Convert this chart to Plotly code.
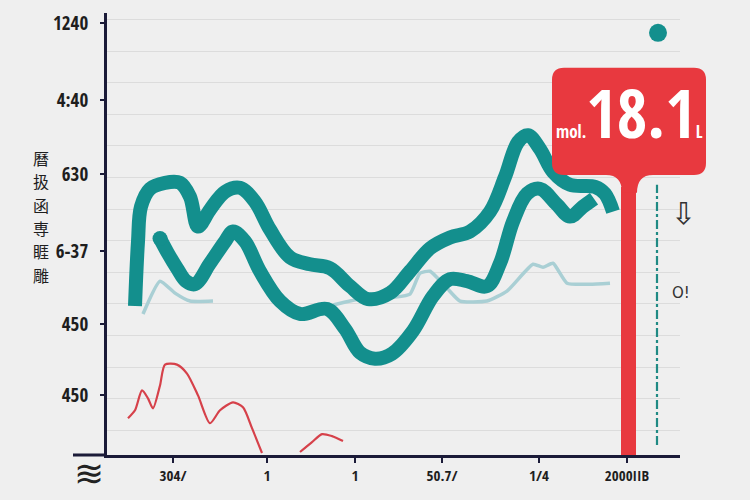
import plotly.graph_objects as go

# ---- data (x: position along the time axis, y: value) ----
upper_x = [60, 63, 66, 75, 90, 105, 115, 123, 135, 150, 165, 180, 195, 215, 235, 255, 275, 293, 315, 335, 355, 375, 395, 415, 430, 443, 453, 465, 478, 495, 520, 530, 538]
upper_y = [150, 215, 250, 268, 274, 274, 260, 230, 247, 265, 269, 255, 227, 199, 192, 188, 170, 157, 163, 185, 208, 219, 225, 245, 280, 315, 322, 308, 285, 272, 270, 263, 245]

lower_x = [85, 93, 102, 111, 120, 135, 150, 158, 170, 185, 205, 225, 252, 270, 285, 300, 317, 338, 358, 375, 392, 412, 425, 438, 452, 465, 482, 495, 508, 519]
lower_y = [218, 203, 188, 175, 172, 193, 215, 225, 215, 185, 155, 142, 147, 127, 103, 97, 102, 125, 160, 177, 175, 170, 193, 235, 263, 268, 252, 240, 250, 258]

light_x = [68, 85, 100, 115, 138, None, 258, 275, 292, 320, 335, 345, 355, 372, 385, 412, 432, 458, 468, 478, 492, 515, 535]
light_y = [142, 175, 163, 155, 155, None, 151, 155, 158, 159, 162, 183, 185, 168, 155, 155, 165, 192, 189, 193, 173, 172, 173]

red_x = [53, 60, 67, 73, 78, 85, 90, 102, 112, 123, 135, 145, 158, 168, 177, 187, None, 225, 237, 247, 257, 268]
red_y = [37, 45, 65, 57, 47, 70, 91, 91, 82, 60, 32, 45, 53, 48, 27, 2, None, 3, 13, 21, 19, 14]

marker_x = [553]
marker_y = [270]
marker_label = "18.1"
marker_unit_left = "mol."
marker_unit_right = "L"

ref_x = [582, 582]
ref_y = [10, 272]
dot_x = [583]
dot_y = [425]

x_tickvals = [98, 192, 280, 367, 464, 552]
x_ticktext = ["304/", "1", "1", "50.7/", "1/4", "2000IIB"]
y_tickvals = [435, 357, 283, 205, 132, 60]
y_ticktext = ["1240", "4:40", "630", "6-37", "450", "450"]
y_title_chars = ["曆", "扱", "函", "専", "睚", "雕"]

# ---- styling ----
TEAL = "#138f8d"
LIGHT = "#a9cfd4"
RED_LINE = "#d6414a"
RED = "#e8393f"
AXIS = "#1b1b38"
BG = "#efefef"
COND = "Open Sans Condensed, DejaVu Sans Condensed, sans-serif"

L, R, T, B = 107, 70, 10, 45
W, H = 750, 500
PW, PH = W - L - R, H - T - B


def px(xp):
    return (xp - L) / PW


def py(yp):
    return (H - B - yp) / PH


def note(x, y, text, size, color, family=COND):
    fig.add_annotation(xref="paper", yref="paper", x=px(x), y=py(y), text=text,
                       xanchor="center", yanchor="middle", showarrow=False,
                       font=dict(family=family, size=size, color=color))


fig = go.Figure()

fig.add_trace(go.Scatter(x=light_x, y=light_y, mode="lines",
                         line=dict(color=LIGHT, width=3.5, shape="spline", smoothing=0.5),
                         connectgaps=False, hoverinfo="skip"))
fig.add_trace(go.Scatter(x=red_x, y=red_y, mode="lines",
                         line=dict(color=RED_LINE, width=2.2, shape="spline", smoothing=0.7),
                         connectgaps=False, hoverinfo="skip"))
fig.add_trace(go.Scatter(x=upper_x, y=upper_y, mode="lines",
                         line=dict(color=TEAL, width=14, shape="spline", smoothing=1)))
fig.add_trace(go.Scatter(x=lower_x, y=lower_y, mode="lines",
                         line=dict(color=TEAL, width=14, shape="spline", smoothing=1)))
fig.add_trace(go.Scatter(x=lower_x[:1], y=lower_y[:1], mode="markers",
                         marker=dict(color=TEAL, size=15)))
fig.add_trace(go.Bar(x=marker_x, y=marker_y, width=15, marker=dict(color=RED, line=dict(width=0))))
fig.add_trace(go.Scatter(x=ref_x, y=ref_y, mode="lines",
                         line=dict(color="#1f8a84", width=2.2, dash="dashdot")))
fig.add_trace(go.Scatter(x=dot_x, y=dot_y, mode="markers",
                         marker=dict(color=TEAL, size=18), cliponaxis=False))

fig.update_layout(
    width=W, height=H,
    margin=dict(l=L, r=R, t=T, b=B),
    paper_bgcolor=BG, plot_bgcolor=BG,
    showlegend=False,
    bargap=0,
    xaxis=dict(range=[32, 605], tickmode="array", tickvals=x_tickvals, ticktext=x_ticktext,
               showgrid=False, zeroline=False, showline=True, linecolor=AXIS, linewidth=3,
               ticks="outside", ticklen=5, tickwidth=1.5, tickcolor=AXIS,
               tickfont=dict(family=COND, size=15, color="#1e1e1e")),
    yaxis=dict(range=[0, 445], tickmode="array", tickvals=y_tickvals, ticktext=y_ticktext,
               showgrid=False, zeroline=False, showline=True, linecolor=AXIS, linewidth=3,
               ticks="outside", ticklen=4, tickwidth=1.5, tickcolor=AXIS, ticklabelstandoff=8,
               tickfont=dict(family=COND, size=19, color="#1e1e1e")),
    yaxis2=dict(range=[0, 445], overlaying="y", tickmode="linear", tick0=25, dtick=31.8,
                showgrid=True, gridcolor="#dcdcdc", gridwidth=1.3, showticklabels=False,
                zeroline=False, showline=False),
)
# invisible trace to activate the gridline axis
fig.add_trace(go.Scatter(x=[None], y=[None], yaxis="y2", showlegend=False))

# x axis extension to the left of the y axis
fig.add_shape(type="line", xref="paper", yref="paper", x0=px(73), x1=0, y0=0, y1=0,
              line=dict(color=AXIS, width=3))

# red call-out box with neck
r = 12
x0, x1, y0, y1 = 552, 706, 65, 173
sx0, sx1 = 622, 637
path = (
    f"M {px(x0 + r)},{py(y0)} L {px(x1 - r)},{py(y0)} Q {px(x1)},{py(y0)} {px(x1)},{py(y0 + r)} "
    f"L {px(x1)},{py(y1 - r)} Q {px(x1)},{py(y1)} {px(x1 - r)},{py(y1)} "
    f"L {px(sx1 + 16)},{py(y1)} Q {px(sx1)},{py(y1)} {px(sx1)},{py(y1 + 18)} "
    f"L {px(sx0)},{py(y1 + 18)} Q {px(sx0)},{py(y1)} {px(sx0 - 16)},{py(y1)} "
    f"L {px(x0 + r)},{py(y1)} Q {px(x0)},{py(y1)} {px(x0)},{py(y1 - r)} "
    f"L {px(x0)},{py(y0 + r)} Q {px(x0)},{py(y0)} {px(x0 + r)},{py(y0)} Z"
)
fig.add_shape(type="path", xref="paper", yref="paper", path=path,
              fillcolor=RED, line=dict(width=0), layer="above")

box_text = (f"<span style='font-size:17px'>{marker_unit_left}</span>{marker_label}"
            f"<span style='font-size:17px'>{marker_unit_right}</span>")
note(629, 110, box_text, 66, "white")

# right side glyphs
note(683, 212, "⇩", 30, "#333333", "DejaVu Sans")
note(681, 292, "O!", 15, "#333333", "DejaVu Sans")

# bottom-left wave glyph
note(89, 474, "≋", 36, "#222222", "DejaVu Sans")

# vertical y title, one character per line
for i, ch in enumerate(y_title_chars):
    note(41, 156 + i * 23.5, ch, 16, "#1e1e1e", "Noto Sans CJK SC")

fig.write_html("out.html", config={"displayModeBar": False},
               post_script="document.body.style.margin='0';")
